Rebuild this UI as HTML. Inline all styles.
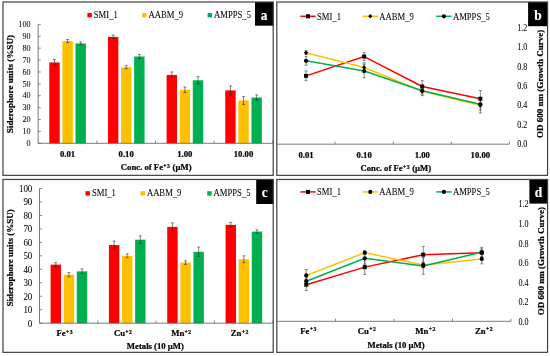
<!DOCTYPE html>
<html><head><meta charset="utf-8"><title>Figure</title>
<style>
html,body{margin:0;padding:0;background:#fff;}
svg{display:block;font-family:"Liberation Serif","DejaVu Serif",serif;}
</style></head><body>
<svg width="550" height="356" viewBox="0 0 550 356">
<rect width="550" height="356" fill="#fff"/>
<rect x="255.0" y="2" width="18.599999999999987" height="23.7" fill="#000"/>
<rect x="3.0" y="2" width="270.2" height="173.35" fill="none" stroke="#404040" stroke-width="1.2"/>
<text transform="translate(264.20000000000005 19.6) scale(0.93 1)" font-size="14.4" font-weight="bold" text-anchor="middle" fill="#fff" stroke="#fff" stroke-width="0.2">a</text>
<rect x="49.30" y="62.45" width="10.4" height="80.85" fill="#FF0000"/>
<path d="M54.5 59.48V65.42M53.0 59.48h3.0M53.0 65.42h3.0" stroke="#222" stroke-width="0.55" fill="none"/>
<rect x="62.40" y="41.05" width="10.4" height="102.25" fill="#FFC000"/>
<path d="M67.6 39.50V42.60M66.1 39.50h3.0M66.1 42.60h3.0" stroke="#222" stroke-width="0.55" fill="none"/>
<rect x="75.50" y="43.42" width="10.4" height="99.88" fill="#00B050"/>
<path d="M80.7 41.87V44.97M79.2 41.87h3.0M79.2 44.97h3.0" stroke="#222" stroke-width="0.55" fill="none"/>
<rect x="107.95" y="36.88" width="10.4" height="106.42" fill="#FF0000"/>
<path d="M113.15 35.10V38.66M111.65 35.10h3.0M111.65 38.66h3.0" stroke="#222" stroke-width="0.55" fill="none"/>
<rect x="121.05" y="67.20" width="10.4" height="76.10" fill="#FFC000"/>
<path d="M126.25 65.65V68.75M124.75 65.65h3.0M124.75 68.75h3.0" stroke="#222" stroke-width="0.55" fill="none"/>
<rect x="134.15" y="56.50" width="10.4" height="86.80" fill="#00B050"/>
<path d="M139.35 54.36V58.64M137.85 54.36h3.0M137.85 58.64h3.0" stroke="#222" stroke-width="0.55" fill="none"/>
<rect x="166.60" y="74.93" width="10.4" height="68.37" fill="#FF0000"/>
<path d="M171.8 71.96V77.90M170.3 71.96h3.0M170.3 77.90h3.0" stroke="#222" stroke-width="0.55" fill="none"/>
<rect x="179.70" y="89.80" width="10.4" height="53.51" fill="#FFC000"/>
<path d="M184.9 87.07V92.53M183.4 87.07h3.0M183.4 92.53h3.0" stroke="#222" stroke-width="0.55" fill="none"/>
<rect x="192.80" y="80.28" width="10.4" height="63.02" fill="#00B050"/>
<path d="M198.0 76.71V83.85M196.5 76.71h3.0M196.5 83.85h3.0" stroke="#222" stroke-width="0.55" fill="none"/>
<rect x="225.25" y="90.39" width="10.4" height="52.91" fill="#FF0000"/>
<path d="M230.45 85.87V94.91M228.95 85.87h3.0M228.95 94.91h3.0" stroke="#222" stroke-width="0.55" fill="none"/>
<rect x="238.35" y="100.50" width="10.4" height="42.80" fill="#FFC000"/>
<path d="M243.55 96.58V104.42M242.05 96.58h3.0M242.05 104.42h3.0" stroke="#222" stroke-width="0.55" fill="none"/>
<rect x="251.45" y="97.52" width="10.4" height="45.78" fill="#00B050"/>
<path d="M256.65 94.90V100.14M255.14999999999998 94.90h3.0M255.14999999999998 100.14h3.0" stroke="#222" stroke-width="0.55" fill="none"/>
<path d="M38.2 24.4V143.3H272.8" stroke="#595959" stroke-width="0.8" fill="none"/>
<path d="M38.2 143.30h2.6" stroke="#595959" stroke-width="0.7"/>
<text transform="translate(30.5 145.95) scale(0.93 1)" font-size="8.7" font-weight="normal" text-anchor="end" fill="#000" stroke="#000" stroke-width="0.05">0</text>
<path d="M38.2 131.41h2.6" stroke="#595959" stroke-width="0.7"/>
<text transform="translate(30.5 134.06) scale(0.93 1)" font-size="8.7" font-weight="normal" text-anchor="end" fill="#000" stroke="#000" stroke-width="0.05">10</text>
<path d="M38.2 119.52h2.6" stroke="#595959" stroke-width="0.7"/>
<text transform="translate(30.5 122.17) scale(0.93 1)" font-size="8.7" font-weight="normal" text-anchor="end" fill="#000" stroke="#000" stroke-width="0.05">20</text>
<path d="M38.2 107.63h2.6" stroke="#595959" stroke-width="0.7"/>
<text transform="translate(30.5 110.28) scale(0.93 1)" font-size="8.7" font-weight="normal" text-anchor="end" fill="#000" stroke="#000" stroke-width="0.05">30</text>
<path d="M38.2 95.74h2.6" stroke="#595959" stroke-width="0.7"/>
<text transform="translate(30.5 98.39) scale(0.93 1)" font-size="8.7" font-weight="normal" text-anchor="end" fill="#000" stroke="#000" stroke-width="0.05">40</text>
<path d="M38.2 83.85h2.6" stroke="#595959" stroke-width="0.7"/>
<text transform="translate(30.5 86.5) scale(0.93 1)" font-size="8.7" font-weight="normal" text-anchor="end" fill="#000" stroke="#000" stroke-width="0.05">50</text>
<path d="M38.2 71.96h2.6" stroke="#595959" stroke-width="0.7"/>
<text transform="translate(30.5 74.61) scale(0.93 1)" font-size="8.7" font-weight="normal" text-anchor="end" fill="#000" stroke="#000" stroke-width="0.05">60</text>
<path d="M38.2 60.07h2.6" stroke="#595959" stroke-width="0.7"/>
<text transform="translate(30.5 62.72) scale(0.93 1)" font-size="8.7" font-weight="normal" text-anchor="end" fill="#000" stroke="#000" stroke-width="0.05">70</text>
<path d="M38.2 48.18h2.6" stroke="#595959" stroke-width="0.7"/>
<text transform="translate(30.5 50.83) scale(0.93 1)" font-size="8.7" font-weight="normal" text-anchor="end" fill="#000" stroke="#000" stroke-width="0.05">80</text>
<path d="M38.2 36.29h2.6" stroke="#595959" stroke-width="0.7"/>
<text transform="translate(30.5 38.94) scale(0.93 1)" font-size="8.7" font-weight="normal" text-anchor="end" fill="#000" stroke="#000" stroke-width="0.05">90</text>
<path d="M38.2 24.40h2.6" stroke="#595959" stroke-width="0.7"/>
<text transform="translate(30.5 27.05) scale(0.93 1)" font-size="8.7" font-weight="normal" text-anchor="end" fill="#000" stroke="#000" stroke-width="0.05">100</text>
<path d="M96.85 143.3v-2.6" stroke="#595959" stroke-width="0.7"/>
<path d="M155.50 143.3v-2.6" stroke="#595959" stroke-width="0.7"/>
<path d="M214.15 143.3v-2.6" stroke="#595959" stroke-width="0.7"/>
<path d="M272.80 143.3v-2.6" stroke="#595959" stroke-width="0.7"/>
<text transform="translate(67.53 156.9) scale(1.0 1)" font-size="8.7" font-weight="bold" text-anchor="middle" fill="#000" stroke="#000" stroke-width="0.22">0.01</text>
<text transform="translate(126.18 156.9) scale(1.0 1)" font-size="8.7" font-weight="bold" text-anchor="middle" fill="#000" stroke="#000" stroke-width="0.22">0.10</text>
<text transform="translate(184.82 156.9) scale(1.0 1)" font-size="8.7" font-weight="bold" text-anchor="middle" fill="#000" stroke="#000" stroke-width="0.22">1.00</text>
<text transform="translate(243.48 156.9) scale(1.0 1)" font-size="8.7" font-weight="bold" text-anchor="middle" fill="#000" stroke="#000" stroke-width="0.22">10.00</text>
<text transform="translate(156.2 170.2) scale(1.0 1)" font-size="8.68" font-weight="bold" text-anchor="middle" fill="#000" stroke="#000" stroke-width="0.22">Conc. of Fe<tspan dy="-2.52" dx="0.3" letter-spacing="0.5" font-size="5.73">+3</tspan><tspan dy="2.52"> (µM)</tspan></text>
<text transform="translate(13.4 84.1) scale(1.0 1) rotate(-90)" font-size="9.1" font-weight="bold" text-anchor="middle" fill="#000" stroke="#000" stroke-width="0.22">Siderophore units (%SU)</text>
<rect x="87.4" y="12.999999999999998" width="4.4" height="4.4" fill="#FF0000"/>
<text transform="translate(93.80000000000001 17.7) scale(0.92 1)" font-size="9.4" font-weight="normal" text-anchor="start" fill="#000" stroke="#000" stroke-width="0.05">SMI_1</text>
<rect x="142.1" y="12.999999999999998" width="4.4" height="4.4" fill="#FFC000"/>
<text transform="translate(148.5 17.7) scale(0.92 1)" font-size="9.4" font-weight="normal" text-anchor="start" fill="#000" stroke="#000" stroke-width="0.05">AABM_9</text>
<rect x="207.6" y="12.999999999999998" width="4.4" height="4.4" fill="#00B050"/>
<text transform="translate(214.0 17.7) scale(0.92 1)" font-size="9.4" font-weight="normal" text-anchor="start" fill="#000" stroke="#000" stroke-width="0.05">AMPPS_5</text>
<rect x="256.2" y="179.45" width="17.4" height="24.55000000000001" fill="#000"/>
<rect x="3.0" y="179.45" width="270.2" height="172.90000000000003" fill="none" stroke="#404040" stroke-width="1.2"/>
<text transform="translate(264.8 197.1) scale(0.93 1)" font-size="14.4" font-weight="bold" text-anchor="middle" fill="#fff" stroke="#fff" stroke-width="0.2">c</text>
<rect x="50.60" y="264.61" width="10.4" height="58.59" fill="#FF0000"/>
<path d="M55.8 262.59V266.63M54.3 262.59h3.0M54.3 266.63h3.0" stroke="#222" stroke-width="0.55" fill="none"/>
<rect x="63.70" y="274.71" width="10.4" height="48.49" fill="#FFC000"/>
<path d="M68.9 272.55V276.87M67.4 272.55h3.0M67.4 276.87h3.0" stroke="#222" stroke-width="0.55" fill="none"/>
<rect x="76.80" y="271.34" width="10.4" height="51.86" fill="#00B050"/>
<path d="M82.0 268.92V273.76M80.5 268.92h3.0M80.5 273.76h3.0" stroke="#222" stroke-width="0.55" fill="none"/>
<rect x="108.92" y="245.07" width="10.4" height="78.13" fill="#FF0000"/>
<path d="M114.12 241.03V249.11M112.62 241.03h3.0M112.62 249.11h3.0" stroke="#222" stroke-width="0.55" fill="none"/>
<rect x="122.03" y="255.85" width="10.4" height="67.35" fill="#FFC000"/>
<path d="M127.23 253.83V257.87M125.73 253.83h3.0M125.73 257.87h3.0" stroke="#222" stroke-width="0.55" fill="none"/>
<rect x="135.12" y="239.69" width="10.4" height="83.51" fill="#00B050"/>
<path d="M140.32 235.92V243.46M138.82 235.92h3.0M138.82 243.46h3.0" stroke="#222" stroke-width="0.55" fill="none"/>
<rect x="167.25" y="226.89" width="10.4" height="96.31" fill="#FF0000"/>
<path d="M172.45 222.85V230.93M170.95 222.85h3.0M170.95 230.93h3.0" stroke="#222" stroke-width="0.55" fill="none"/>
<rect x="180.35" y="262.58" width="10.4" height="60.62" fill="#FFC000"/>
<path d="M185.55 260.83V264.33M184.05 260.83h3.0M184.05 264.33h3.0" stroke="#222" stroke-width="0.55" fill="none"/>
<rect x="193.45" y="251.81" width="10.4" height="71.39" fill="#00B050"/>
<path d="M198.65 247.10V256.52M197.15 247.10h3.0M197.15 256.52h3.0" stroke="#222" stroke-width="0.55" fill="none"/>
<rect x="225.58" y="224.87" width="10.4" height="98.33" fill="#FF0000"/>
<path d="M230.78 222.45V227.29M229.28 222.45h3.0M229.28 227.29h3.0" stroke="#222" stroke-width="0.55" fill="none"/>
<rect x="238.68" y="259.22" width="10.4" height="63.98" fill="#FFC000"/>
<path d="M243.88 255.85V262.59M242.38 255.85h3.0M242.38 262.59h3.0" stroke="#222" stroke-width="0.55" fill="none"/>
<rect x="251.78" y="231.60" width="10.4" height="91.60" fill="#00B050"/>
<path d="M256.98 229.85V233.35M255.48000000000002 229.85h3.0M255.48000000000002 233.35h3.0" stroke="#222" stroke-width="0.55" fill="none"/>
<path d="M39.5 188.5V323.2H272.8" stroke="#595959" stroke-width="0.8" fill="none"/>
<path d="M39.5 323.20h2.6" stroke="#595959" stroke-width="0.7"/>
<text transform="translate(32.3 326.6) scale(0.95 1)" font-size="9.4" font-weight="normal" text-anchor="end" fill="#000" stroke="#000" stroke-width="0.05">0</text>
<path d="M39.5 309.73h2.6" stroke="#595959" stroke-width="0.7"/>
<text transform="translate(32.3 313.13) scale(0.95 1)" font-size="9.4" font-weight="normal" text-anchor="end" fill="#000" stroke="#000" stroke-width="0.05">10</text>
<path d="M39.5 296.26h2.6" stroke="#595959" stroke-width="0.7"/>
<text transform="translate(32.3 299.66) scale(0.95 1)" font-size="9.4" font-weight="normal" text-anchor="end" fill="#000" stroke="#000" stroke-width="0.05">20</text>
<path d="M39.5 282.79h2.6" stroke="#595959" stroke-width="0.7"/>
<text transform="translate(32.3 286.19) scale(0.95 1)" font-size="9.4" font-weight="normal" text-anchor="end" fill="#000" stroke="#000" stroke-width="0.05">30</text>
<path d="M39.5 269.32h2.6" stroke="#595959" stroke-width="0.7"/>
<text transform="translate(32.3 272.72) scale(0.95 1)" font-size="9.4" font-weight="normal" text-anchor="end" fill="#000" stroke="#000" stroke-width="0.05">40</text>
<path d="M39.5 255.85h2.6" stroke="#595959" stroke-width="0.7"/>
<text transform="translate(32.3 259.25) scale(0.95 1)" font-size="9.4" font-weight="normal" text-anchor="end" fill="#000" stroke="#000" stroke-width="0.05">50</text>
<path d="M39.5 242.38h2.6" stroke="#595959" stroke-width="0.7"/>
<text transform="translate(32.3 245.78) scale(0.95 1)" font-size="9.4" font-weight="normal" text-anchor="end" fill="#000" stroke="#000" stroke-width="0.05">60</text>
<path d="M39.5 228.91h2.6" stroke="#595959" stroke-width="0.7"/>
<text transform="translate(32.3 232.31) scale(0.95 1)" font-size="9.4" font-weight="normal" text-anchor="end" fill="#000" stroke="#000" stroke-width="0.05">70</text>
<path d="M39.5 215.44h2.6" stroke="#595959" stroke-width="0.7"/>
<text transform="translate(32.3 218.84) scale(0.95 1)" font-size="9.4" font-weight="normal" text-anchor="end" fill="#000" stroke="#000" stroke-width="0.05">80</text>
<path d="M39.5 201.97h2.6" stroke="#595959" stroke-width="0.7"/>
<text transform="translate(32.3 205.37) scale(0.95 1)" font-size="9.4" font-weight="normal" text-anchor="end" fill="#000" stroke="#000" stroke-width="0.05">90</text>
<path d="M39.5 188.50h2.6" stroke="#595959" stroke-width="0.7"/>
<text transform="translate(32.3 191.9) scale(0.95 1)" font-size="9.4" font-weight="normal" text-anchor="end" fill="#000" stroke="#000" stroke-width="0.05">100</text>
<path d="M97.83 323.2v-2.6" stroke="#595959" stroke-width="0.7"/>
<path d="M156.15 323.2v-2.6" stroke="#595959" stroke-width="0.7"/>
<path d="M214.48 323.2v-2.6" stroke="#595959" stroke-width="0.7"/>
<path d="M272.80 323.2v-2.6" stroke="#595959" stroke-width="0.7"/>
<text transform="translate(64.86 336.4) scale(1.0 1)" font-size="8.7" font-weight="bold" text-anchor="middle" fill="#000" stroke="#000" stroke-width="0.22">Fe<tspan dy="-2.52" dx="0.3" letter-spacing="0.5" font-size="5.74">+3</tspan><tspan dy="2.52">&#8203;</tspan></text>
<text transform="translate(123.19 336.4) scale(1.0 1)" font-size="8.7" font-weight="bold" text-anchor="middle" fill="#000" stroke="#000" stroke-width="0.22">Cu<tspan dy="-2.52" dx="0.3" letter-spacing="0.5" font-size="5.74">+2</tspan><tspan dy="2.52">&#8203;</tspan></text>
<text transform="translate(181.51 336.4) scale(1.0 1)" font-size="8.7" font-weight="bold" text-anchor="middle" fill="#000" stroke="#000" stroke-width="0.22">Mn<tspan dy="-2.52" dx="0.3" letter-spacing="0.5" font-size="5.74">+2</tspan><tspan dy="2.52">&#8203;</tspan></text>
<text transform="translate(239.84 336.4) scale(1.0 1)" font-size="8.7" font-weight="bold" text-anchor="middle" fill="#000" stroke="#000" stroke-width="0.22">Zn<tspan dy="-2.52" dx="0.3" letter-spacing="0.5" font-size="5.74">+2</tspan><tspan dy="2.52">&#8203;</tspan></text>
<text transform="translate(155.4 348.5) scale(1.0 1)" font-size="8.7" font-weight="bold" text-anchor="middle" fill="#000" stroke="#000" stroke-width="0.22">Metals (10 µM)</text>
<text transform="translate(13.4 257.8) scale(1.0 1) rotate(-90)" font-size="9.0" font-weight="bold" text-anchor="middle" fill="#000" stroke="#000" stroke-width="0.22">Siderophore units (%SU)</text>
<rect x="85.5" y="191.2" width="4.4" height="4.4" fill="#FF0000"/>
<text transform="translate(91.9 195.9) scale(0.92 1)" font-size="9.4" font-weight="normal" text-anchor="start" fill="#000" stroke="#000" stroke-width="0.05">SMI_1</text>
<rect x="140.5" y="191.2" width="4.4" height="4.4" fill="#FFC000"/>
<text transform="translate(146.9 195.9) scale(0.92 1)" font-size="9.4" font-weight="normal" text-anchor="start" fill="#000" stroke="#000" stroke-width="0.05">AABM_9</text>
<rect x="207.2" y="191.2" width="4.4" height="4.4" fill="#00B050"/>
<text transform="translate(213.6 195.9) scale(0.92 1)" font-size="9.4" font-weight="normal" text-anchor="start" fill="#000" stroke="#000" stroke-width="0.05">AMPPS_5</text>
<rect x="528.1" y="2" width="19.84999999999993" height="24.2" fill="#000"/>
<rect x="276.8" y="2" width="270.74999999999994" height="173.35" fill="none" stroke="#404040" stroke-width="1.2"/>
<text transform="translate(537.9250000000001 20.2) scale(0.93 1)" font-size="14.4" font-weight="bold" text-anchor="middle" fill="#fff" stroke="#fff" stroke-width="0.2">b</text>
<path d="M277 144.2H509.4" stroke="#595959" stroke-width="0.8" fill="none"/>
<path d="M335.10 144.2v-2.6" stroke="#595959" stroke-width="0.7"/>
<path d="M393.20 144.2v-2.6" stroke="#595959" stroke-width="0.7"/>
<path d="M451.30 144.2v-2.6" stroke="#595959" stroke-width="0.7"/>
<path d="M509.40 144.2v-2.6" stroke="#595959" stroke-width="0.7"/>
<text transform="translate(527.3 146.8) scale(0.87 1)" font-size="9.3" font-weight="normal" text-anchor="end" fill="#000" stroke="#000" stroke-width="0.05">0.0</text>
<text transform="translate(527.3 127.5) scale(0.87 1)" font-size="9.3" font-weight="normal" text-anchor="end" fill="#000" stroke="#000" stroke-width="0.05">0.2</text>
<text transform="translate(527.3 108.2) scale(0.87 1)" font-size="9.3" font-weight="normal" text-anchor="end" fill="#000" stroke="#000" stroke-width="0.05">0.4</text>
<text transform="translate(527.3 88.9) scale(0.87 1)" font-size="9.3" font-weight="normal" text-anchor="end" fill="#000" stroke="#000" stroke-width="0.05">0.6</text>
<text transform="translate(527.3 69.6) scale(0.87 1)" font-size="9.3" font-weight="normal" text-anchor="end" fill="#000" stroke="#000" stroke-width="0.05">0.8</text>
<text transform="translate(527.3 50.3) scale(0.87 1)" font-size="9.3" font-weight="normal" text-anchor="end" fill="#000" stroke="#000" stroke-width="0.05">1.0</text>
<text transform="translate(527.3 31.0) scale(0.87 1)" font-size="9.3" font-weight="normal" text-anchor="end" fill="#000" stroke="#000" stroke-width="0.05">1.2</text>
<polyline points="306.05,75.85 364.15,56.55 422.25,86.47 480.35,98.72" fill="none" stroke="#FF0000" stroke-width="1.5" stroke-linejoin="round"/>
<polyline points="306.05,52.69 364.15,67.55 422.25,91.29 480.35,105.28" fill="none" stroke="#FFC000" stroke-width="1.5" stroke-linejoin="round"/>
<polyline points="306.05,60.80 364.15,71.03 422.25,90.81 480.35,104.32" fill="none" stroke="#00B050" stroke-width="1.5" stroke-linejoin="round"/>
<path d="M306.05 71.02V80.67M304.55 71.02h3.0M304.55 80.67h3.0" stroke="#555" stroke-width="0.7" fill="none"/>
<path d="M364.15 52.69V60.41M362.65 52.69h3.0M362.65 60.41h3.0" stroke="#555" stroke-width="0.7" fill="none"/>
<path d="M422.25 80.68V92.26M420.75 80.68h3.0M420.75 92.26h3.0" stroke="#555" stroke-width="0.7" fill="none"/>
<path d="M480.35 90.52V106.92M478.85 90.52h3.0M478.85 106.92h3.0" stroke="#555" stroke-width="0.7" fill="none"/>
<path d="M306.05 50.76V54.62M304.55 50.76h3.0M304.55 54.62h3.0" stroke="#555" stroke-width="0.7" fill="none"/>
<path d="M364.15 62.72V72.38M362.65 62.72h3.0M362.65 72.38h3.0" stroke="#555" stroke-width="0.7" fill="none"/>
<path d="M422.25 88.40V94.19M420.75 88.40h3.0M420.75 94.19h3.0" stroke="#555" stroke-width="0.7" fill="none"/>
<path d="M480.35 97.56V113.00M478.85 97.56h3.0M478.85 113.00h3.0" stroke="#555" stroke-width="0.7" fill="none"/>
<path d="M306.05 56.46V65.14M304.55 56.46h3.0M304.55 65.14h3.0" stroke="#555" stroke-width="0.7" fill="none"/>
<path d="M364.15 64.28V77.78M362.65 64.28h3.0M362.65 77.78h3.0" stroke="#555" stroke-width="0.7" fill="none"/>
<path d="M422.25 85.98V95.64M420.75 85.98h3.0M420.75 95.64h3.0" stroke="#555" stroke-width="0.7" fill="none"/>
<path d="M480.35 98.53V110.11M478.85 98.53h3.0M478.85 110.11h3.0" stroke="#555" stroke-width="0.7" fill="none"/>
<rect x="304.05" y="73.85" width="4" height="4" fill="#000"/>
<rect x="362.15" y="54.55" width="4" height="4" fill="#000"/>
<rect x="420.25" y="84.47" width="4" height="4" fill="#000"/>
<rect x="478.35" y="96.72" width="4" height="4" fill="#000"/>
<path d="M306.05 50.39l2.1 2.3l-2.1 2.3l-2.1 -2.3z" fill="#000"/>
<path d="M364.15 65.25l2.1 2.3l-2.1 2.3l-2.1 -2.3z" fill="#000"/>
<path d="M422.25 88.99000000000001l2.1 2.3l-2.1 2.3l-2.1 -2.3z" fill="#000"/>
<path d="M480.35 102.98l2.1 2.3l-2.1 2.3l-2.1 -2.3z" fill="#000"/>
<circle cx="306.05" cy="60.8" r="2.1" fill="#000"/>
<circle cx="364.15" cy="71.03" r="2.1" fill="#000"/>
<circle cx="422.25" cy="90.81" r="2.1" fill="#000"/>
<circle cx="480.35" cy="104.32" r="2.1" fill="#000"/>
<text transform="translate(306.05 157.5) scale(1.0 1)" font-size="8.7" font-weight="bold" text-anchor="middle" fill="#000" stroke="#000" stroke-width="0.22">0.01</text>
<text transform="translate(364.15 157.5) scale(1.0 1)" font-size="8.7" font-weight="bold" text-anchor="middle" fill="#000" stroke="#000" stroke-width="0.22">0.10</text>
<text transform="translate(422.25 157.5) scale(1.0 1)" font-size="8.7" font-weight="bold" text-anchor="middle" fill="#000" stroke="#000" stroke-width="0.22">1.00</text>
<text transform="translate(480.35 157.5) scale(1.0 1)" font-size="8.7" font-weight="bold" text-anchor="middle" fill="#000" stroke="#000" stroke-width="0.22">10.00</text>
<text transform="translate(395.8 171.2) scale(1.0 1)" font-size="8.68" font-weight="bold" text-anchor="middle" fill="#000" stroke="#000" stroke-width="0.22">Conc. of Fe<tspan dy="-2.52" dx="0.3" letter-spacing="0.5" font-size="5.73">+3</tspan><tspan dy="2.52"> (µM)</tspan></text>
<text transform="translate(543.4 83.9) scale(1.0 1) rotate(-90)" font-size="9.0" font-weight="bold" text-anchor="middle" fill="#000" stroke="#000" stroke-width="0.22">OD 600 nm (Growth Curve)</text>
<path d="M300.4 16.3h15.2" stroke="#FF0000" stroke-width="1.5"/>
<rect x="306.00" y="14.30" width="4" height="4" fill="#000"/>
<text transform="translate(317.0 19.5) scale(0.92 1)" font-size="9.4" font-weight="normal" text-anchor="start" fill="#000" stroke="#000" stroke-width="0.05">SMI_1</text>
<path d="M362.7 16.3h15.2" stroke="#FFC000" stroke-width="1.5"/>
<path d="M370.3 14.0l2.1 2.3l-2.1 2.3l-2.1 -2.3z" fill="#000"/>
<text transform="translate(379.3 19.5) scale(0.92 1)" font-size="9.4" font-weight="normal" text-anchor="start" fill="#000" stroke="#000" stroke-width="0.05">AABM_9</text>
<path d="M436.3 16.3h15.2" stroke="#00B050" stroke-width="1.5"/>
<circle cx="443.90000000000003" cy="16.3" r="2.1" fill="#000"/>
<text transform="translate(452.90000000000003 19.5) scale(0.92 1)" font-size="9.4" font-weight="normal" text-anchor="start" fill="#000" stroke="#000" stroke-width="0.05">AMPPS_5</text>
<rect x="529.4" y="179.45" width="18.549999999999976" height="24.150000000000006" fill="#000"/>
<rect x="276.8" y="179.45" width="270.74999999999994" height="172.90000000000003" fill="none" stroke="#404040" stroke-width="1.2"/>
<text transform="translate(538.5749999999999 197.4) scale(0.93 1)" font-size="14.4" font-weight="bold" text-anchor="middle" fill="#fff" stroke="#fff" stroke-width="0.2">d</text>
<path d="M277 321.3H511" stroke="#595959" stroke-width="0.8" fill="none"/>
<path d="M335.50 321.3v-2.6" stroke="#595959" stroke-width="0.7"/>
<path d="M394.00 321.3v-2.6" stroke="#595959" stroke-width="0.7"/>
<path d="M452.50 321.3v-2.6" stroke="#595959" stroke-width="0.7"/>
<path d="M511.00 321.3v-2.6" stroke="#595959" stroke-width="0.7"/>
<text transform="translate(528.6 324.9) scale(0.87 1)" font-size="9.3" font-weight="normal" text-anchor="end" fill="#000" stroke="#000" stroke-width="0.05">0.0</text>
<text transform="translate(528.6 305.3) scale(0.87 1)" font-size="9.3" font-weight="normal" text-anchor="end" fill="#000" stroke="#000" stroke-width="0.05">0.2</text>
<text transform="translate(528.6 285.7) scale(0.87 1)" font-size="9.3" font-weight="normal" text-anchor="end" fill="#000" stroke="#000" stroke-width="0.05">0.4</text>
<text transform="translate(528.6 266.1) scale(0.87 1)" font-size="9.3" font-weight="normal" text-anchor="end" fill="#000" stroke="#000" stroke-width="0.05">0.6</text>
<text transform="translate(528.6 246.5) scale(0.87 1)" font-size="9.3" font-weight="normal" text-anchor="end" fill="#000" stroke="#000" stroke-width="0.05">0.8</text>
<text transform="translate(528.6 226.9) scale(0.87 1)" font-size="9.3" font-weight="normal" text-anchor="end" fill="#000" stroke="#000" stroke-width="0.05">1.0</text>
<text transform="translate(528.6 207.3) scale(0.87 1)" font-size="9.3" font-weight="normal" text-anchor="end" fill="#000" stroke="#000" stroke-width="0.05">1.2</text>
<polyline points="306.25,284.75 364.75,267.11 423.25,254.66 481.75,252.70" fill="none" stroke="#FF0000" stroke-width="1.5" stroke-linejoin="round"/>
<polyline points="306.25,275.44 364.75,252.70 423.25,264.95 481.75,258.97" fill="none" stroke="#FFC000" stroke-width="1.5" stroke-linejoin="round"/>
<polyline points="306.25,281.22 364.75,258.29 423.25,265.93 481.75,252.21" fill="none" stroke="#00B050" stroke-width="1.5" stroke-linejoin="round"/>
<path d="M306.25 278.87V290.63M304.75 278.87h3.0M304.75 290.63h3.0" stroke="#555" stroke-width="0.7" fill="none"/>
<path d="M364.75 259.76V274.46M363.25 259.76h3.0M363.25 274.46h3.0" stroke="#555" stroke-width="0.7" fill="none"/>
<path d="M423.25 246.33V262.99M421.75 246.33h3.0M421.75 262.99h3.0" stroke="#555" stroke-width="0.7" fill="none"/>
<path d="M481.75 248.78V256.62M480.25 248.78h3.0M480.25 256.62h3.0" stroke="#555" stroke-width="0.7" fill="none"/>
<path d="M306.25 269.56V281.32M304.75 269.56h3.0M304.75 281.32h3.0" stroke="#555" stroke-width="0.7" fill="none"/>
<path d="M364.75 250.74V254.66M363.25 250.74h3.0M363.25 254.66h3.0" stroke="#555" stroke-width="0.7" fill="none"/>
<path d="M423.25 262.01V267.89M421.75 262.01h3.0M421.75 267.89h3.0" stroke="#555" stroke-width="0.7" fill="none"/>
<path d="M481.75 254.07V263.87M480.25 254.07h3.0M480.25 263.87h3.0" stroke="#555" stroke-width="0.7" fill="none"/>
<path d="M306.25 277.30V285.14M304.75 277.30h3.0M304.75 285.14h3.0" stroke="#555" stroke-width="0.7" fill="none"/>
<path d="M364.75 252.41V264.17M363.25 252.41h3.0M363.25 264.17h3.0" stroke="#555" stroke-width="0.7" fill="none"/>
<path d="M423.25 257.60V274.26M421.75 257.60h3.0M421.75 274.26h3.0" stroke="#555" stroke-width="0.7" fill="none"/>
<path d="M481.75 247.31V257.11M480.25 247.31h3.0M480.25 257.11h3.0" stroke="#555" stroke-width="0.7" fill="none"/>
<rect x="304.25" y="282.75" width="4" height="4" fill="#000"/>
<rect x="362.75" y="265.11" width="4" height="4" fill="#000"/>
<rect x="421.25" y="252.66" width="4" height="4" fill="#000"/>
<rect x="479.75" y="250.70" width="4" height="4" fill="#000"/>
<circle cx="306.25" cy="275.44" r="2.1" fill="#000"/>
<circle cx="364.75" cy="252.7" r="2.1" fill="#000"/>
<circle cx="423.25" cy="264.95" r="2.1" fill="#000"/>
<circle cx="481.75" cy="258.97" r="2.1" fill="#000"/>
<circle cx="306.25" cy="281.22" r="2.1" fill="#000"/>
<circle cx="364.75" cy="258.29" r="2.1" fill="#000"/>
<circle cx="423.25" cy="265.93" r="2.1" fill="#000"/>
<circle cx="481.75" cy="252.21" r="2.1" fill="#000"/>
<text transform="translate(308.55 334.0) scale(1.0 1)" font-size="8.7" font-weight="bold" text-anchor="middle" fill="#000" stroke="#000" stroke-width="0.22">Fe<tspan dy="-2.52" dx="0.3" letter-spacing="0.5" font-size="5.74">+3</tspan><tspan dy="2.52">&#8203;</tspan></text>
<text transform="translate(367.05 334.0) scale(1.0 1)" font-size="8.7" font-weight="bold" text-anchor="middle" fill="#000" stroke="#000" stroke-width="0.22">Cu<tspan dy="-2.52" dx="0.3" letter-spacing="0.5" font-size="5.74">+2</tspan><tspan dy="2.52">&#8203;</tspan></text>
<text transform="translate(425.55 334.0) scale(1.0 1)" font-size="8.7" font-weight="bold" text-anchor="middle" fill="#000" stroke="#000" stroke-width="0.22">Mn<tspan dy="-2.52" dx="0.3" letter-spacing="0.5" font-size="5.74">+2</tspan><tspan dy="2.52">&#8203;</tspan></text>
<text transform="translate(484.05 334.0) scale(1.0 1)" font-size="8.7" font-weight="bold" text-anchor="middle" fill="#000" stroke="#000" stroke-width="0.22">Zn<tspan dy="-2.52" dx="0.3" letter-spacing="0.5" font-size="5.74">+2</tspan><tspan dy="2.52">&#8203;</tspan></text>
<text transform="translate(396.1 348.1) scale(1.0 1)" font-size="8.7" font-weight="bold" text-anchor="middle" fill="#000" stroke="#000" stroke-width="0.22">Metals (10 µM)</text>
<text transform="translate(543.5 261.2) scale(1.0 1) rotate(-90)" font-size="9.0" font-weight="bold" text-anchor="middle" fill="#000" stroke="#000" stroke-width="0.22">OD 600 nm (Growth Curve)</text>
<path d="M300.4 191.9h15.2" stroke="#FF0000" stroke-width="1.5"/>
<rect x="306.00" y="189.90" width="4" height="4" fill="#000"/>
<text transform="translate(317.0 195.1) scale(0.92 1)" font-size="9.4" font-weight="normal" text-anchor="start" fill="#000" stroke="#000" stroke-width="0.05">SMI_1</text>
<path d="M362.7 191.9h15.2" stroke="#FFC000" stroke-width="1.5"/>
<circle cx="370.3" cy="191.9" r="2.1" fill="#000"/>
<text transform="translate(379.3 195.1) scale(0.92 1)" font-size="9.4" font-weight="normal" text-anchor="start" fill="#000" stroke="#000" stroke-width="0.05">AABM_9</text>
<path d="M436.3 191.9h15.2" stroke="#00B050" stroke-width="1.5"/>
<circle cx="443.90000000000003" cy="191.9" r="2.1" fill="#000"/>
<text transform="translate(452.90000000000003 195.1) scale(0.92 1)" font-size="9.4" font-weight="normal" text-anchor="start" fill="#000" stroke="#000" stroke-width="0.05">AMPPS_5</text>
</svg>
</body></html>
